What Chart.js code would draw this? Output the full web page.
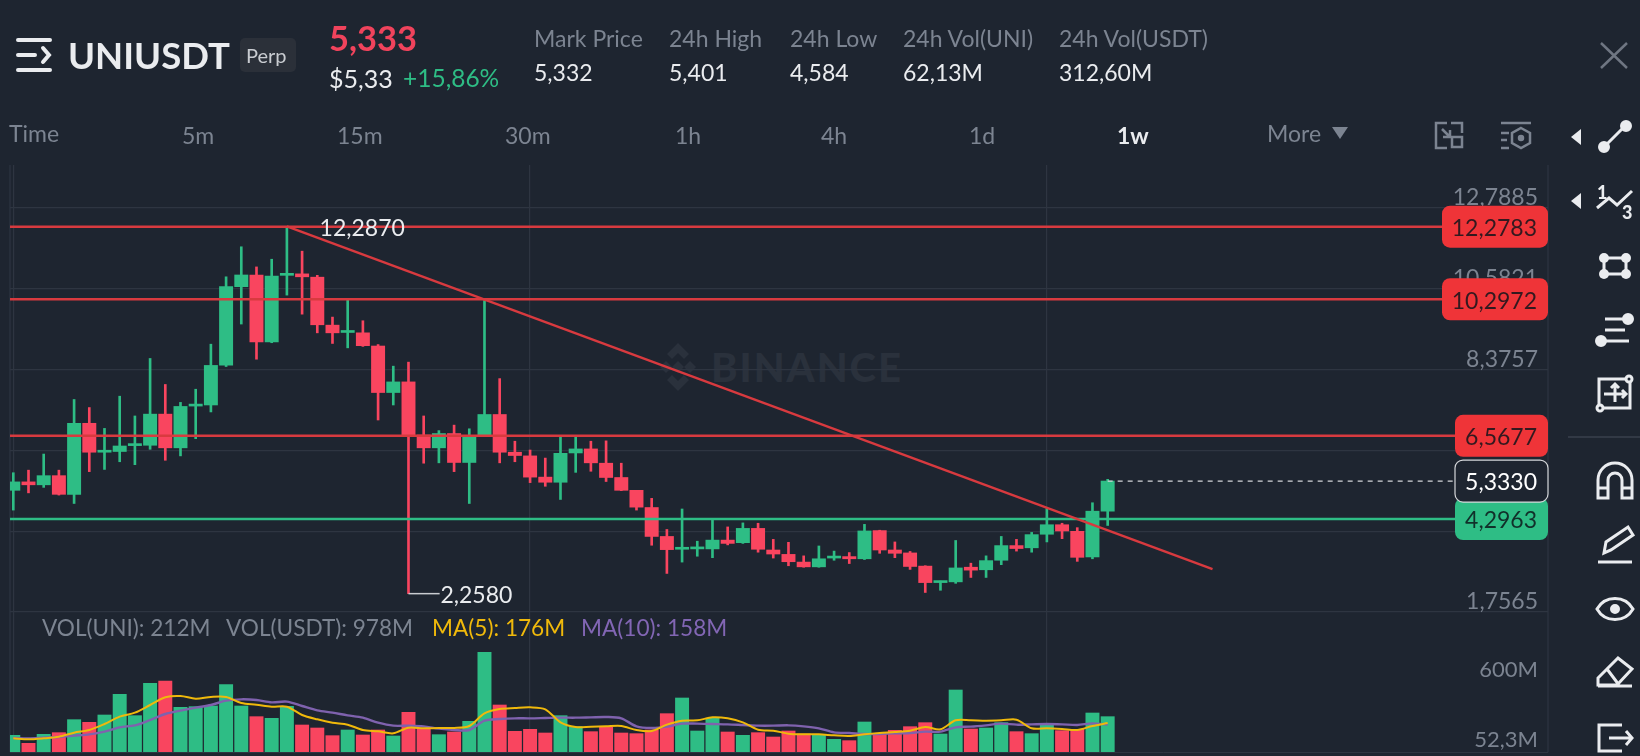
<!DOCTYPE html>
<html>
<head>
<meta charset="utf-8">
<title>UNIUSDT</title>
<script src="https://cdn.jsdelivr.net/npm/chart.js@4"></script>
<style>
    html, body { margin: 0; padding: 0; background: #1e2530; }
    body { width: 1640px; height: 756px; position: relative; overflow: hidden; font-family: Lato, sans-serif; }
    canvas { position: absolute; left: 0; top: 0; }
    .t { position: absolute; white-space: nowrap; transform: translateY(-50%); line-height: 1; }
    .gray { color: #7c8491; }
    .white { color: #eaecef; }
    .head { font-size: 23px; }
    .tab { font-size: 23px; top: 135px; color: #7c8491; }
    .leg { font-size: 22.6px; top: 628px; }
    svg { position: absolute; overflow: visible; fill: none; }
</style>
</head>
<body>

<!-- watermark sits under the canvas -->
<svg style="left:0;top:0" width="1640" height="756">
    <g fill="#2a313c">
        <path d="M678 343l11 11-5 5-6-6-6 6-5-5z"/>
        <path d="M678 391l11-11-5-5-6 6-6-6-5 5z"/>
        <path d="M678 361l6 6-6 6-6-6z"/>
        <path d="M660 367l6-6 6 6-6 6z"/>
        <path d="M696 367l-6-6-6 6 6 6z"/>
    </g>
</svg>
<div class="t" style="left:711px;top:367px;font-size:40px;font-weight:900;letter-spacing:2px;color:#2a313c">BINANCE</div>

<canvas id="myChart" width="1640" height="756"></canvas>

<!-- header -->
<svg style="left:16px;top:38px" width="36" height="34" stroke="#eaecef" stroke-width="4" stroke-linecap="round">
    <path d="M2 2h32M2 17h17M2 32h32M27 10l6 7-6 7"/>
</svg>
<div class="t" style="left:68px;top:55px;font-size:36.5px;font-weight:700;color:#eaecef">UNIUSDT</div>
<div style="position:absolute;left:240px;top:38px;width:56px;height:34px;background:#2b3039;border-radius:5px"></div>
<div class="t" style="left:246px;top:55px;font-size:20px;color:#c9ccd1">Perp</div>
<div class="t" style="left:329px;top:38px;font-size:34.5px;font-weight:700;color:#f0435c">5,333</div>
<div class="t white" style="left:329px;top:78px;font-size:25px">$5,33</div>
<div class="t" style="left:403px;top:78px;font-size:24.5px;color:#2ebd85">+15,86%</div>

<div class="t gray head" style="left:534px;top:38px">Mark Price</div>
<div class="t white head" style="left:534px;top:72px">5,332</div>
<div class="t gray head" style="left:669px;top:38px">24h High</div>
<div class="t white head" style="left:669px;top:72px">5,401</div>
<div class="t gray head" style="left:790px;top:38px">24h Low</div>
<div class="t white head" style="left:790px;top:72px">4,584</div>
<div class="t gray head" style="left:903px;top:38px">24h Vol(UNI)</div>
<div class="t white head" style="left:903px;top:72px">62,13M</div>
<div class="t gray head" style="left:1059px;top:38px">24h Vol(USDT)</div>
<div class="t white head" style="left:1059px;top:72px">312,60M</div>
<svg style="left:1601px;top:43px" width="26" height="25" stroke="#6f7682" stroke-width="2.5"><path d="M0 0l26 25M26 0L0 25"/></svg>

<!-- interval tabs -->
<div class="t tab" style="left:9px;top:133px">Time</div>
<div class="t tab" style="left:182px">5m</div>
<div class="t tab" style="left:337px">15m</div>
<div class="t tab" style="left:505px">30m</div>
<div class="t tab" style="left:675px">1h</div>
<div class="t tab" style="left:821px">4h</div>
<div class="t tab" style="left:969px">1d</div>
<div class="t tab" style="left:1117px;color:#eaecef;font-weight:700">1w</div>
<div class="t tab" style="left:1267px;top:133px">More</div>
<svg style="left:1332px;top:127px" width="16" height="12"><path d="M0 0h16L8 12z" fill="#7c8491"/></svg>
<svg style="left:1435px;top:122px" width="28" height="27" stroke="#7c8491" stroke-width="2.5">
    <path d="M12 1H1v25h11M16 1h11v10M7 7l8 8M15 8v7H8"/><rect x="17" y="15" width="10" height="10"/>
</svg>
<svg style="left:1500px;top:122px" width="32" height="27" stroke="#7c8491" stroke-width="2.5">
    <path d="M1 1h30M1 11h8M1 18h6M1 26h8"/><path d="M21 6l9 5v10l-9 5-9-5V11z"/><circle cx="21" cy="16" r="2" fill="#7c8491"/>
</svg>

<!-- volume legend -->
<div class="t gray leg" style="left:42px">VOL(UNI): 212M</div>
<div class="t gray leg" style="left:226px">VOL(USDT): 978M</div>
<div class="t leg" style="left:432px;color:#f0b90b">MA(5): 176M</div>
<div class="t leg" style="left:581px;color:#8266b4">MA(10): 158M</div>

<!-- drawing toolbar -->
<svg style="left:0;top:0" width="1640" height="756" stroke="#eaecef" stroke-width="3">
    <path d="M1571 137l10-8v16zM1571 201l10-8v16z" fill="#eaecef" stroke="none"/>
    <path d="M1604 147l20-20"/><circle cx="1604" cy="147" r="4.5" fill="#eaecef"/><circle cx="1626" cy="126" r="4.5" fill="#eaecef"/>
    <path d="M1597 208l12-10 8 7 15-14"/>
    <text x="1597" y="199" font-size="18" font-weight="900" fill="#eaecef" stroke="none">1</text>
    <text x="1622" y="219" font-size="18" font-weight="900" fill="#eaecef" stroke="none">3</text>
    <path d="M1604 258h22v16h-22z"/>
    <g fill="#eaecef" stroke="none"><circle cx="1604" cy="258" r="5"/><circle cx="1626" cy="258" r="5"/><circle cx="1604" cy="274" r="5"/><circle cx="1626" cy="274" r="5"/></g>
    <path d="M1605 319h24M1605 330h20M1605 341h24"/>
    <circle cx="1628" cy="319" r="4.5" fill="#eaecef"/><circle cx="1601" cy="341" r="4.5" fill="#eaecef"/>
    <rect x="1599" y="379" width="31" height="29"/><path d="M1604 394h22M1615 384v18M1611 388l4-4 4 4M1622 390l4 4-4 4"/>
    <circle cx="1629" cy="379" r="3" fill="#1e2530"/><circle cx="1600" cy="408" r="3" fill="#1e2530"/>
    <path d="M1568 437h72" stroke="#3a414c" stroke-width="1.5"/>
    <path d="M1598 498v-18a17 17 0 0 1 34 0v18h-10v-18a7 7 0 0 0-14 0v18zM1598 488h10M1622 488h10"/>
    <path d="M1604 553l2-11 22-15 5 8-22 15zM1598 562h34"/>
    <path d="M1597 609c8-14 28-14 36 0c-8 14-28 14-36 0z"/><circle cx="1615" cy="609" r="3.5" fill="#eaecef"/>
    <path d="M1598 678l20-20 14 11-15 16h-19zM1607 669l12 16M1598 686h34"/>
    <path d="M1622 725h-23v26h23M1609 738h23M1626 731l6 7-6 7"/>
</svg>

<script>
// weekly candles
const opens = [5.08,5.31,5.23,5.48,4.97,6.91,6.12,6.14,6.30,6.31,
    7.16,6.24,7.38,7.41,8.50,10.64,10.96,9.13,10.95,10.99,
    10.90,9.59,9.39,9.38,9.02,7.75,8.04,6.59,6.24,6.63,
    5.84,6.58,7.15,6.12,6.02,5.44,5.30,6.10,6.21,5.82,
    5.43,5.08,4.61,3.82,3.47,3.48,3.48,3.72,3.65,4.04,
    3.45,3.33,3.12,2.99,3.23,3.27,3.21,3.98,3.45,3.37,
    3.01,2.56,2.58,2.98,2.91,3.17,3.57,3.51,3.88,4.14,
    3.96,3.26,4.51];
const closes = [5.31,5.23,5.48,4.97,6.91,6.12,6.16,6.29,6.34,7.16,
    6.24,7.37,7.42,8.49,10.64,10.96,9.13,10.93,10.99,10.91,
    9.60,9.38,9.43,9.03,7.75,8.04,6.59,6.24,6.63,5.84,
    6.53,7.15,6.12,6.03,5.44,5.30,6.09,6.21,5.83,5.43,
    5.08,4.62,3.82,3.46,3.51,3.51,3.72,3.63,4.04,3.47,
    3.34,3.13,2.99,3.21,3.28,3.21,3.97,3.45,3.36,3.00,
    2.56,2.60,2.96,2.90,3.16,3.57,3.49,3.87,4.14,3.97,
    3.25,4.51,5.333];
const highs = [5.56,5.63,6.07,5.63,7.56,7.34,6.77,7.65,7.11,8.68,
    7.97,7.48,7.84,9.07,10.91,11.73,11.18,11.39,12.287,11.61,
    10.95,9.81,10.32,9.71,9.06,8.47,8.58,7.11,6.71,6.86,
    6.76,10.26,8.13,6.42,6.18,5.96,6.53,6.53,6.42,6.43,
    5.82,5.08,4.86,4.01,4.57,3.69,4.27,4.08,4.19,4.18,
    3.74,3.66,3.29,3.56,3.42,3.38,4.15,3.99,3.67,3.41,
    3.02,2.60,3.71,3.09,3.29,3.82,3.74,3.93,4.58,4.18,
    4.06,4.74,5.38];
const lows = [4.54,5.01,5.16,4.95,4.72,5.59,5.65,5.86,5.78,6.20,
    5.90,6.02,6.49,7.22,8.46,9.62,8.66,9.11,10.41,9.89,
    9.38,9.09,8.97,9.01,7.00,7.41,2.258,5.82,5.83,5.59,
    4.72,6.56,5.83,5.86,5.29,5.19,4.83,5.57,5.60,5.32,
    5.07,4.54,3.58,2.81,3.12,3.28,3.24,3.59,3.63,3.39,
    3.23,3.02,2.98,2.98,3.17,3.08,3.19,3.36,3.24,2.92,
    2.29,2.35,2.54,2.70,2.70,3.05,3.42,3.39,3.67,3.76,
    3.14,3.21,4.12];

// volume in millions
const volumes = [100,52,106,116,194,178,222,346,218,412,
    426,268,272,276,404,276,212,202,274,162,
    144,98,132,102,132,96,238,142,104,120,
    184,598,282,124,136,114,218,152,122,148,
    114,110,132,230,324,126,202,120,100,116,
    90,126,108,102,76,68,180,108,130,152,
    176,108,372,138,144,176,122,110,162,128,
    136,234,212];
const ma5 = [82,76,82,92,116,132,168,212,236,282,
    328,336,320,330,330,294,284,272,272,222,
    196,176,164,132,124,112,146,142,144,144,
    156,232,258,264,268,256,178,150,152,154,
    156,132,126,164,188,190,208,202,178,134,
    128,110,106,106,100,96,106,114,120,128,
    150,136,190,190,188,190,194,142,142,138,
    132,156,174];
const ma10 = [84,82,86,90,98,106,122,148,160,192,
    228,248,266,282,308,316,312,298,302,276,
    250,236,220,206,176,158,158,154,140,132,
    132,188,198,202,202,204,206,206,208,210,
    202,154,144,152,170,170,168,166,162,158,
    158,160,154,142,118,114,108,108,112,114,
    122,122,148,152,160,170,164,166,168,166,
    162,172,164];

const priceTicks = [12.7885,10.5821,8.3757,6.1693,3.9629,1.7565];
const volumeTicks = [600,52.3];
const volumeTickShift = [18,-3];
const timeTicks = [0,34,68];

const redLevels = [12.2783,10.2972,6.5677];
const greenLevel = 4.2963;
const lastPrice = 5.333;
const trendLine = [{x:18,y:12.287},{x:78.9,y:2.93}];
const lowLeader = [{x:26,y:2.258},{x:28.05,y:2.258}];

const RED = "#f9455f";
const GREEN = "#2ebd85";
const LINE_RED = "#d83a3f";
const GRID = "#2e3541";
const FONT = "23px Lato";

const xMin = -0.217;
const xMax = 100.97;

function fmt(v) {
    return v.toFixed(4).replace(".", ",");
}
function levelLine(y, color, dash, fromX) {
    return {
        type: "line",
        data: [{x:fromX,y:y},{x:xMax,y:y}],
        borderColor: color,
        borderWidth: dash ? 1.2 : 2.4,
        borderDash: dash || [],
        pointRadius: 0,
        order: 1
    };
}

const candleColors = opens.map((o, i) => closes[i] >= o ? GREEN : RED);

const datasets = [
    {
        data: opens.map((o, i) => ({x:i,y:[lows[i],highs[i]]})),
        backgroundColor: candleColors,
        grouped: false,
        maxBarThickness: 2,
        order: 7
    },
    {
        data: opens.map((o, i) => ({x:i,y:[o,closes[i]]})),
        backgroundColor: candleColors,
        grouped: false,
        maxBarThickness: 13.3,
        minBarLength: 2,
        order: 6
    },
    {
        data: volumes.map((v, i) => ({x:i,y:v})),
        backgroundColor: candleColors,
        yAxisID: "yVol",
        grouped: false,
        maxBarThickness: 13.3,
        order: 5
    },
    {
        type: "line",
        data: ma10.map((v, i) => ({x:i,y:v})),
        borderColor: "#7f62ae",
        borderWidth: 2.4,
        pointRadius: 0,
        tension: 0.3,
        yAxisID: "yVol",
        order: 4
    },
    {
        type: "line",
        data: ma5.map((v, i) => ({x:i,y:v})),
        borderColor: "#f0b90b",
        borderWidth: 2,
        pointRadius: 0,
        tension: 0.3,
        yAxisID: "yVol",
        order: 3
    },
    {
        type: "line",
        data: lowLeader,
        borderColor: "#c9ccd1",
        borderWidth: 1.5,
        pointRadius: 0,
        order: 2
    },
    {
        type: "line",
        data: trendLine,
        borderColor: LINE_RED,
        borderWidth: 2.4,
        pointRadius: 0,
        order: 1
    },
    ...redLevels.map(v => levelLine(v, LINE_RED, null, xMin)),
    levelLine(greenLevel, GREEN, null, xMin),
    levelLine(lastPrice, "#d5d7da", [5, 5], 72)
];

// price pills, drawing labels and the volume axis text
const overlay = {
    id: "overlay",
    beforeDatasetsDraw(chart) {
        // panel edges, left and right
        const a = chart.chartArea;
        const c = chart.ctx;
        c.save();
        c.strokeStyle = GRID;
        c.lineWidth = 1.2;
        c.beginPath();
        c.moveTo(a.left, a.top);
        c.lineTo(a.left, a.bottom);
        c.moveTo(a.right, a.top);
        c.lineTo(a.right, a.bottom);
        c.stroke();
        c.restore();
    },
    afterDatasetsDraw(chart) {
        const c = chart.ctx;
        const y = chart.scales.y;
        const x = chart.scales.x;
        const yVol = chart.scales.yVol;

        function pill(value, bg, fg, border) {
            const text = fmt(value);
            const left = text.length > 6 ? 1442 : 1455;
            const cy = y.getPixelForValue(value);
            c.beginPath();
            c.roundRect(left, cy - 21, 1548 - left, 42, 8);
            c.fillStyle = bg;
            c.fill();
            if (border) {
                c.strokeStyle = border;
                c.lineWidth = 1.2;
                c.stroke();
            }
            c.fillStyle = fg;
            c.textAlign = "right";
            c.textBaseline = "middle";
            c.font = FONT;
            c.fillText(text, 1537, cy + 2);
        }
        c.save();
        redLevels.forEach(v => pill(v, "#ef3438", "#33191f"));
        pill(greenLevel, GREEN, "#11302a");
        pill(lastPrice, "#1e2530", "#ffffff", "#d5d7da");

        // high and low tags of the drawing
        c.font = FONT;
        c.textAlign = "left";
        c.textBaseline = "middle";
        c.fillStyle = "#eaecef";
        c.fillText("12,2870", x.getPixelForValue(20.15), y.getPixelForValue(12.287) + 2);
        c.fillText("2,2580", x.getPixelForValue(28.1), y.getPixelForValue(2.258) + 2);

        c.font = "22px Lato";
        c.textAlign = "right";
        c.fillStyle = "#7c8491";
        volumeTicks.forEach((v, i) => {
            const label = String(v).replace(".", ",") + "M";
            c.fillText(label, 1538, yVol.getPixelForValue(v) + volumeTickShift[i]);
        });
        c.restore();
    }
};

// the axes sit on top of the plot, they must not take room from it
function noRoom(scale) {
    scale.paddingTop = 0;
    scale.paddingBottom = 0;
    scale.paddingLeft = 0;
    scale.paddingRight = 0;
    if (scale.isHorizontal()) {
        scale.height = 0;
    } else {
        scale.width = 0;
    }
}

const ctx = document.getElementById("myChart").getContext("2d");
const chart = new Chart(ctx, {
    type: "bar",
    data: { datasets: datasets },
    plugins: [overlay],
    options: {
        responsive: false,
        animation: false,
        events: [],
        layout: { padding: { left: 10, right: 92, top: 165, bottom: 4 } },
        plugins: { legend: { display: false }, tooltip: { enabled: false } },
        datasets: { bar: { barPercentage: 1, categoryPercentage: 1, borderWidth: 0 } },
        scales: {
            x: {
                type: "linear",
                min: xMin,
                max: xMax,
                offset: false,
                afterBuildTicks(scale) {
                    scale.ticks = timeTicks.map(v => ({value:v}));
                },
                afterFit: noRoom,
                grid: { color: GRID, lineWidth: 1.2, drawTicks: false, offset: false },
                border: { color: GRID },
                ticks: { display: false }
            },
            y: {
                position: "right",
                min: -2.066,
                max: 13.963,
                afterBuildTicks(scale) {
                    scale.ticks = priceTicks.map(v => ({value:v}));
                },
                afterFit: noRoom,
                grid: { color: GRID, lineWidth: 1.2, drawTicks: false },
                border: { display: false },
                ticks: {
                    mirror: true,
                    padding: -10,
                    labelOffset: -10,
                    autoSkip: false,
                    color: "#7c8491",
                    font: { family: "Lato", size: 23 },
                    callback: v => fmt(v)
                }
            },
            yVol: {
                display: false,
                position: "right",
                min: 0,
                max: 3522
            }
        }
    }
});
</script>
</body>
</html>
